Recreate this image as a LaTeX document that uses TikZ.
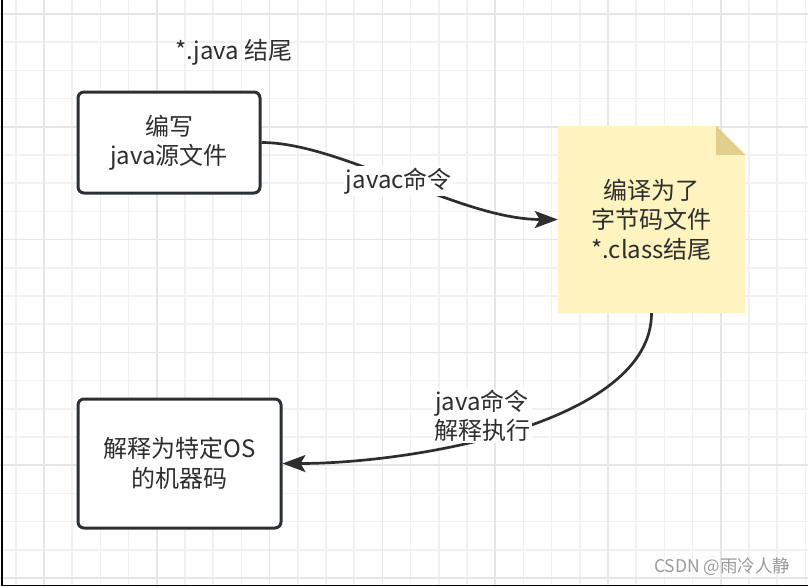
\documentclass[tikz,border=0pt]{standalone}
\usepackage{fontspec}
\setmainfont{Noto Sans CJK SC}
\usetikzlibrary{arrows.meta, backgrounds}
\definecolor{inkgray}{HTML}{2E2E2E}
\definecolor{boxline}{HTML}{2B3035}
\definecolor{notefill}{HTML}{FFF3BF}
\definecolor{notefold}{HTML}{E2CF8D}
\definecolor{gridline}{HTML}{F1F1F1}
\definecolor{gridmajor}{HTML}{E6E6E6}
\definecolor{markgray}{HTML}{9A9A9A}

\tikzset{
  procbox/.style={draw=boxline, line width=3pt, rounded corners=6pt, fill=white,
    align=center, text=inkgray, font=\fontsize{24}{29.5}\selectfont},
  notebox/.style={align=center, text=inkgray, font=\fontsize{24}{29.5}\selectfont,
    minimum width=187pt, minimum height=187pt},
  edgelabel/.style={fill=white, text=inkgray, align=center, inner sep=1.5pt,
    font=\fontsize{24}{29}\selectfont},
  flow/.style={draw=inkgray, line width=2.7pt,
    -{Stealth[length=23pt, width=17pt, inset=5pt]}}
}

\begin{document}
\begin{tikzpicture}[x=1pt, y=-1pt]

% Canvas
\useasboundingbox (0,0) rectangle (808,587);

% Title
\node[text=inkgray, font=\fontsize{24}{29}\selectfont] (title) at (234,52) {*.java 结尾};

% Boxes
\node[procbox, minimum width=182pt, minimum height=101pt] (src) at (169,142.5)
  {编写\\java源文件};
\node[procbox, minimum width=203pt, minimum height=129pt] (mach) at (179.5,463.5)
  {解释为特定OS\\的机器码};

% Note with folded corner
\node[notebox] (note) at (651.5,219.5) {编译为了\\字节码文件\\*.class结尾};

\begin{scope}[on background layer]
  \fill[white] (0,0) rectangle (808,587);
  % Grid
  \foreach \i in {0,...,28}
    \draw[gridline, line width=1.6pt] ({15.7+28.2*\i},0) -- ({15.7+28.2*\i},587);
  \foreach \i in {0,...,20}
    \draw[gridline, line width=1.6pt] (0,{14+28.2*\i}) -- (808,{14+28.2*\i});
  \foreach \i in {1,5,...,25}
    \draw[gridmajor, line width=1.6pt] ({15.7+28.2*\i},0) -- ({15.7+28.2*\i},587);
  \foreach \i in {0,4,...,20}
    \draw[gridmajor, line width=1.6pt] (0,{14+28.2*\i}) -- (808,{14+28.2*\i});
  % Note body and fold
  \fill[notefill] (note.north west) -- ([xshift=-29pt]note.north east)
    -- ([yshift=-29pt]note.north east) -- (note.south east) -- (note.south west) -- cycle;
  \fill[notefold] ([xshift=-29pt]note.north east) -- ([xshift=-29pt, yshift=-29pt]note.north east)
    -- ([yshift=-29pt]note.north east) -- cycle;
\end{scope}

% Frame (left and bottom only)
\draw[black, line width=1.5pt] (2,0) -- (2,585.5) -- (808,585.5);

% Connectors
\draw[flow] (src.east) .. controls +(80,0) and +(-98,0) .. (note.west)
  node[edgelabel, pos=0.5, xshift=-4pt] (lab1) {javac命令};
\draw[flow] (note.south) .. controls +(0,110) and +(130,0) .. (mach.east);
\node[edgelabel] (lab2) at (482,416) {java命令\\解释执行};

% Watermark
\node[text=markgray, font=\fontsize{17.5}{20}\selectfont, anchor=east] (mark) at (794,567)
  {CSDN @雨冷人静};

\end{tikzpicture}
\end{document}
